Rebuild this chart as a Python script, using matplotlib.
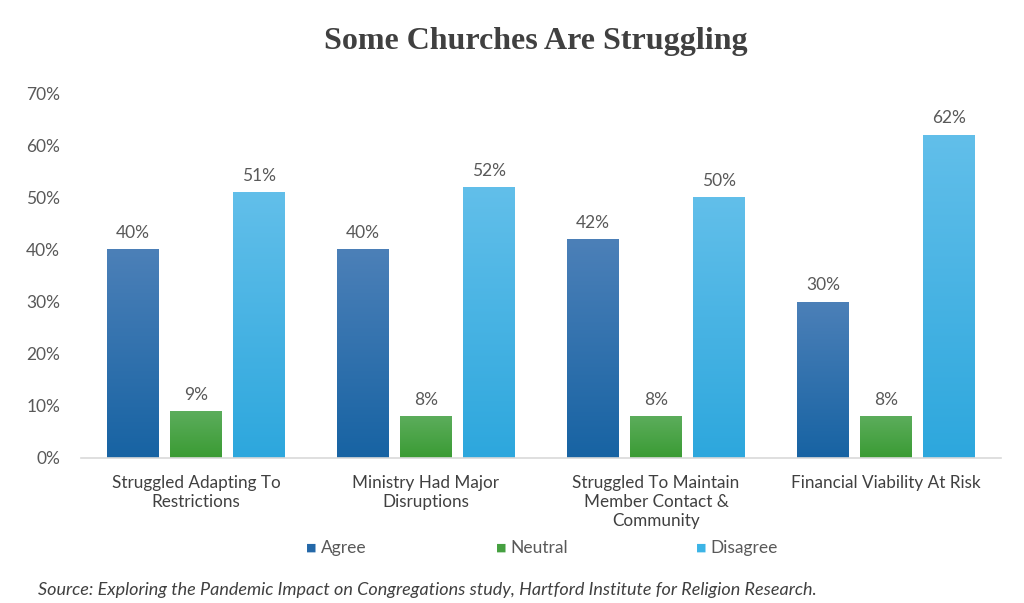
import numpy as np
import matplotlib
matplotlib.use("Agg")
import matplotlib.pyplot as plt
from matplotlib.colors import LinearSegmentedColormap

categories = ["Struggled Adapting To\nRestrictions", "Ministry Had Major\nDisruptions",
              "Struggled To Maintain\nMember Contact &\nCommunity", "Financial Viability At Risk"]
series_names = ["Agree", "Neutral", "Disagree"]
agree = [40, 40, 42, 30]
neutral = [9, 8, 8, 8]
disagree = [51, 52, 50, 62]
y_ticks = [0, 10, 20, 30, 40, 50, 60, 70]

# gradient top -> bottom for each series
grads = [("#4c80b8", "#1763a3"), ("#5cad5c", "#3a9b33"), ("#62bfea", "#2da7dd")]
legend_cols = ["#2468a8", "#45a040", "#3cb4e6"]

plt.rcParams['font.family'] = ['Lato', 'DejaVu Sans']

fig = plt.figure(figsize=(10.24, 6.03), dpi=100)
ax = fig.add_axes([81/1024, 1 - 458/603, 920/1024, 365/603])

x = np.arange(len(categories))
width = 52/230
step = 63/230
values = [agree, neutral, disagree]

for k, vals in enumerate(values):
    bars = ax.bar(x + (k - 1)*step, vals, width, color="none", edgecolor="none",
                  label=series_names[k])
    cmap = LinearSegmentedColormap.from_list("g%d" % k, [grads[k][1], grads[k][0]])
    for b, v in zip(bars, vals):
        x0 = b.get_x()
        grad = np.linspace(0, 1, 256).reshape(-1, 1)
        im = ax.imshow(grad, cmap=cmap, origin="lower", aspect="auto",
                       extent=[x0, x0 + b.get_width(), 0, v], zorder=2)
        im.set_clip_path(b)
        ax.text(x0 + b.get_width()/2, v + 1.6, "%d%%" % v, ha="center", va="bottom",
                fontsize=12.5, color="#595959")

ax.set_xlim(-0.5, 3.5)
ax.set_ylim(0, 70)
ax.set_yticks(y_ticks)
ax.set_yticklabels(["%d%%" % t for t in y_ticks], fontsize=12.5, color="#595959")
ax.set_xticks(x)
ax.set_xticklabels(categories, fontsize=12.3, color="#404040", linespacing=1.25, va="top")
ax.tick_params(axis="both", length=0)
ax.tick_params(axis="y", pad=15)
ax.tick_params(axis="x", pad=12)
for s in ["top", "right", "left"]:
    ax.spines[s].set_visible(False)
ax.spines["bottom"].set_color("#d9d9d9")
ax.spines["bottom"].set_linewidth(1.2)

# legend
leg_x = [0.304, 0.489, 0.685]
for k in range(3):
    fig.text(leg_x[k], 1 - 548/603, "\u25A0", color=legend_cols[k], fontsize=8,
             ha="center", va="center", family="DejaVu Sans")
    fig.text(leg_x[k] + 0.009, 1 - 548/603, series_names[k], color="#595959",
             fontsize=12.5, ha="left", va="center")

fig.text(0.523, 1 - 42/603, "Some Churches Are Struggling", ha="center", va="center",
         fontsize=23, fontweight="bold", color="#404040", family="Liberation Serif")

fig.text(38/1024, 1 - 590/603,
         "Source: Exploring the Pandemic Impact on Congregations study, Hartford Institute for Religion Research.",
         ha="left", va="center", fontsize=13, style="italic", color="#404040")

fig.savefig("out.png", dpi=100)
